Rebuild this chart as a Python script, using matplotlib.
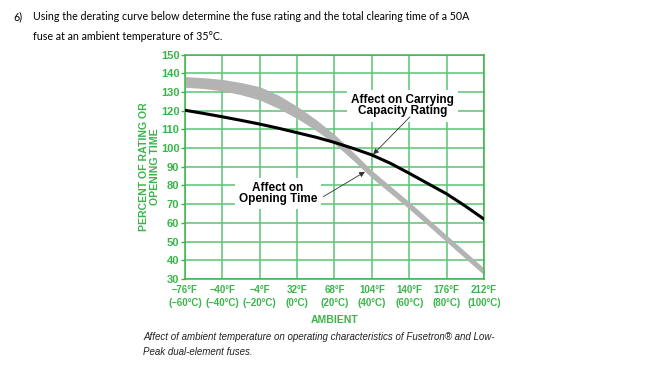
import numpy as np
import matplotlib
matplotlib.use("Agg")
import matplotlib.pyplot as plt

# values (deg C -> percent)
temps_c = [-60, -50, -40, -30, -20, -10, 0, 10, 20, 30, 40, 50, 60, 70, 80, 90, 100]
carrying = [120.2, 118.5, 116.7, 114.8, 112.8, 110.6, 108.2, 105.8, 103.0, 99.8,
            96.3, 91.8, 86.5, 81.0, 75.5, 69.0, 62.0]
opening_hi = [138.2, 137.6, 136.7, 135.0, 132.8, 128.3, 122.3, 115.3, 107.3, 97.8,
              88.0, 79.6, 71.2, 62.3, 53.4, 44.6, 35.8]
opening_lo = [132.5, 131.8, 130.6, 128.5, 125.7, 121.2, 115.8, 109.5, 102.3, 93.4,
              84.0, 75.8, 67.4, 58.7, 49.8, 41.0, 32.2]

xticks_c = [-60, -40, -20, 0, 20, 40, 60, 80, 100]
xticks_f = [-76, -40, -4, 32, 68, 104, 140, 176, 212]
yticks = list(range(30, 151, 10))

green = '#3ab54a'
gridgreen = '#5cc474'
sans = ['Liberation Sans Narrow', 'Liberation Sans', 'DejaVu Sans']

fig = plt.figure(figsize=(6.63, 3.69), dpi=100)
ax = fig.add_axes([0.279, 0.2439, 0.451, 0.6084])

ax.set_xlim(-60, 100)
ax.set_ylim(30, 150)
ax.set_xticks(xticks_c)
ax.set_yticks(yticks)
ax.grid(True, color=gridgreen, lw=1.1, zorder=0)
ax.set_axisbelow(True)
for s in ax.spines.values():
    s.set_color(green)
    s.set_linewidth(1.1)

ax.fill_between(temps_c, opening_lo, opening_hi, color='#b3b3b3', lw=0, zorder=2)
ax.plot(temps_c, carrying, color='black', lw=2.2, zorder=3)

xlabels = ["%s°F\n(%s°C)" % (str(f).replace('-', '\u2013'), str(c).replace('-', '\u2013'))
           for f, c in zip(xticks_f, xticks_c)]
ax.set_xticklabels(xlabels, color=green, fontsize=7, fontweight='bold',
                   family=sans, linespacing=1.35)
ax.set_yticklabels([str(v) for v in yticks], color=green, fontsize=8,
                   fontweight='bold', family=sans)
ax.tick_params(axis='x', length=0, pad=4.5)
ax.tick_params(axis='y', length=3, width=1, color=green, pad=1)

ax.set_ylabel("PERCENT OF RATING OR\nOPENING TIME", color=green, fontsize=7.6,
              fontweight='bold', family=sans, labelpad=0.5, linespacing=1.1)
ax.set_xlabel("AMBIENT", color=green, fontsize=7.5, fontweight='bold',
              family=sans, labelpad=5)

box = dict(boxstyle='square,pad=0.35', fc='white', ec='none')
ax.text(56.5, 122.5, "Affect on Carrying\nCapacity Rating", fontsize=8.5,
        fontweight='bold', family=sans, ha='center', va='center',
        linespacing=0.9, bbox=box, zorder=4)
ax.text(-10.3, 75.8, "Affect on\nOpening Time", fontsize=8.5,
        fontweight='bold', family=sans, ha='center', va='center',
        linespacing=0.9, bbox=box, zorder=4)

arrow = dict(arrowstyle='-|>', color='#333333', lw=0.6, mutation_scale=8,
             shrinkA=0, shrinkB=0)
ax.annotate("", xy=(40.7, 96.6), xytext=(60.4, 116.7), arrowprops=arrow, zorder=5)
ax.annotate("", xy=(36.3, 87.3), xytext=(14.0, 74.0), arrowprops=arrow, zorder=5)

# question text
qfont = ['Lato', 'DejaVu Sans']
fig.text(13 / 663, 1 - 17 / 369, "6)", fontsize=7.7, family=qfont, va='center')
fig.text(33 / 663, 1 - 17 / 369,
         "Using the derating curve below determine the fuse rating and the total clearing time of a 50A",
         fontsize=7.7, family=qfont, va='center')
fig.text(33 / 663, 1 - 36 / 369, "fuse at an ambient temperature of 35°C.",
         fontsize=7.7, family=qfont, va='center')

# caption
fig.text(143 / 663, 1 - 337 / 369,
         "Affect of ambient temperature on operating characteristics of Fusetron\u00ae and Low-",
         fontsize=7.0, style='italic', family=sans, color='#222222', va='center')
fig.text(143 / 663, 1 - 352 / 369, "Peak dual-element fuses.",
         fontsize=7.0, style='italic', family=sans, color='#222222', va='center')

fig.savefig('out.png', dpi=100)
